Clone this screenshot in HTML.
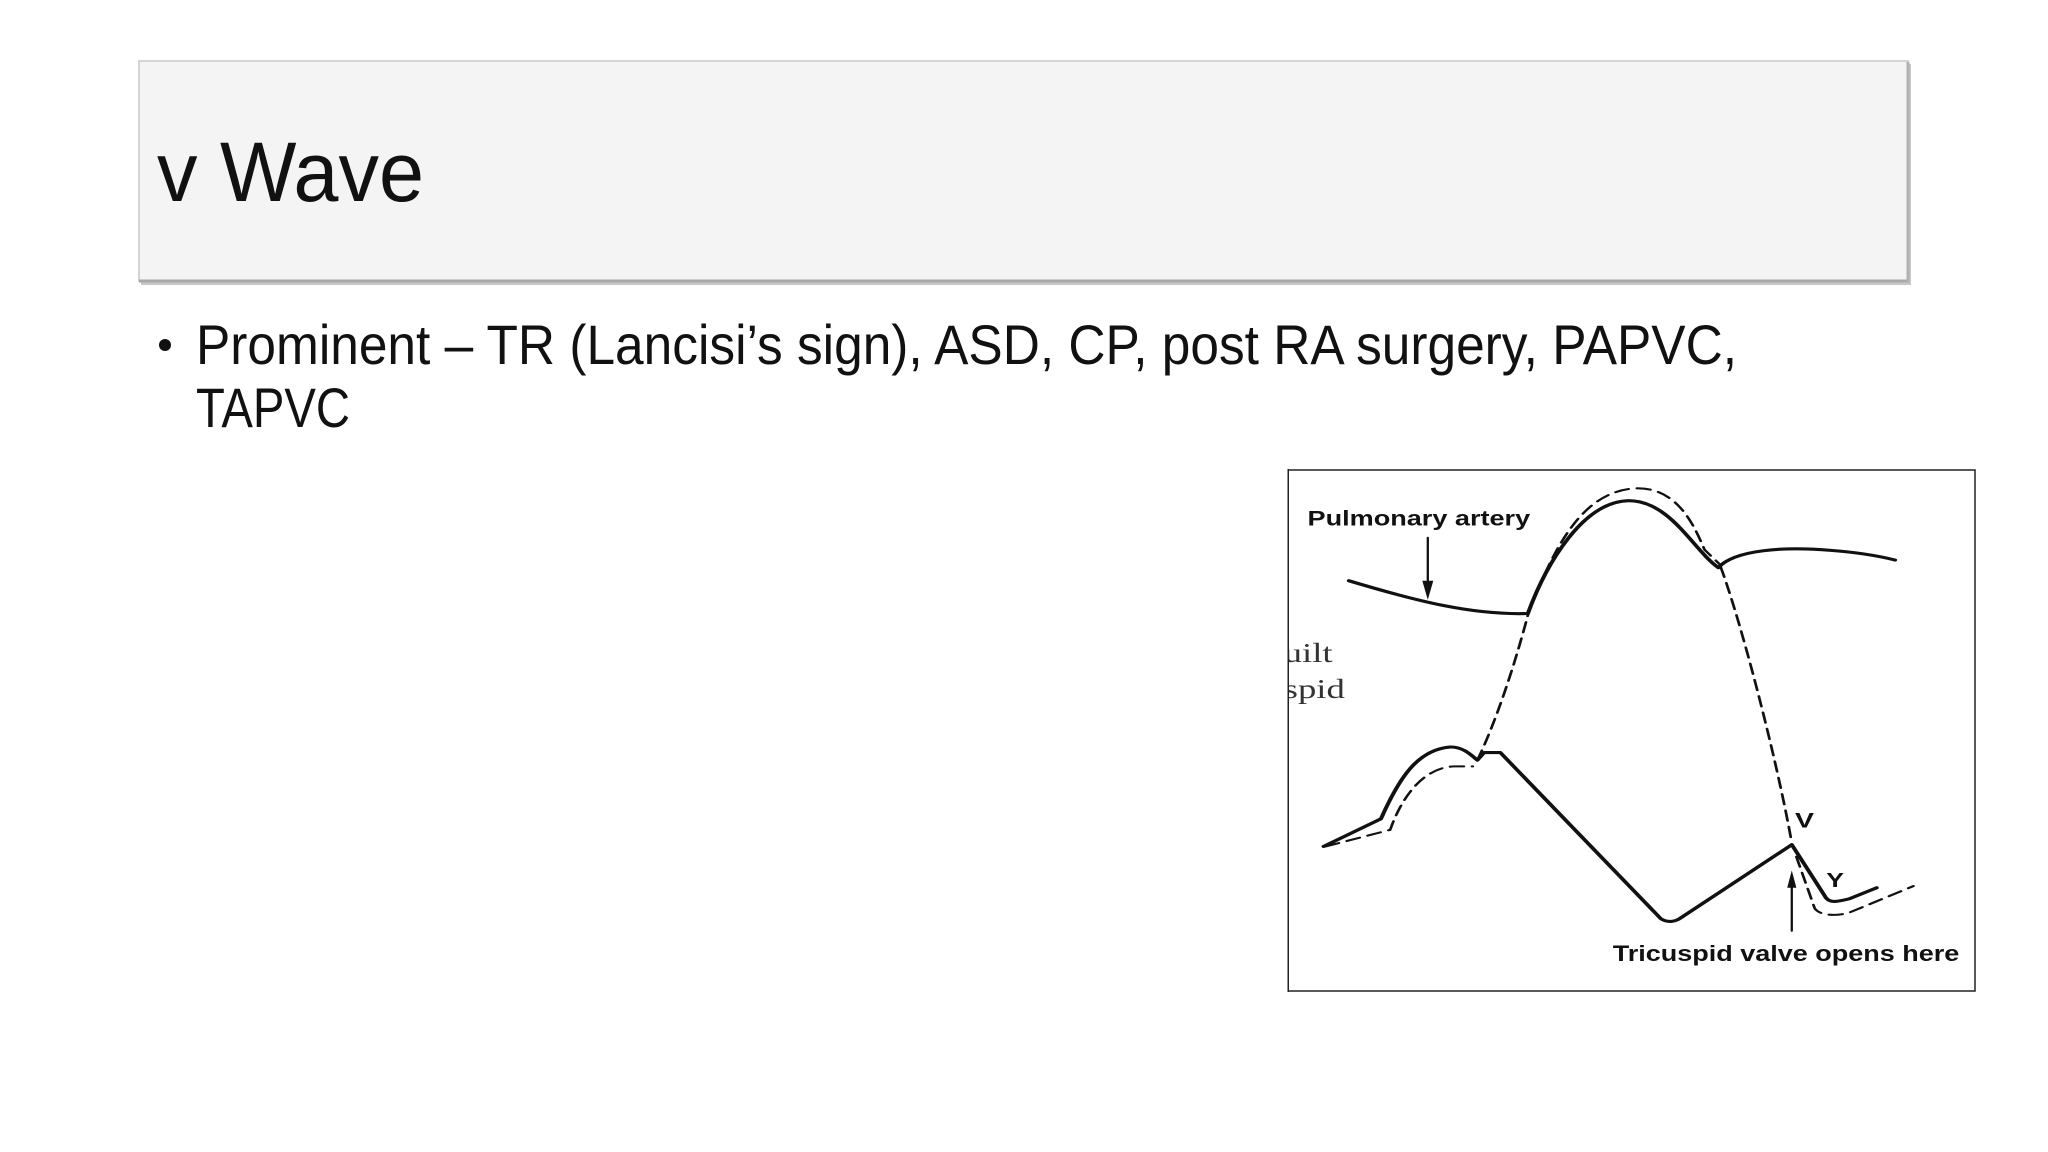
<!DOCTYPE html>
<html><head><meta charset="utf-8"><style>
html,body{margin:0;padding:0;background:#fff;}
svg{display:block;}
</style></head><body>
<svg width="2048" height="1152" viewBox="0 0 2048 1152" xmlns="http://www.w3.org/2000/svg">
<rect x="141" y="64" width="1770" height="221" fill="#c8c8c8"/>
<rect x="139" y="61" width="1769" height="220" fill="#f4f4f4" stroke="#d4d4d4" stroke-width="2"/>
<line x1="139" y1="281" x2="1909" y2="281" stroke="#a8a8a8" stroke-width="3"/>
<line x1="1908" y1="62" x2="1908" y2="282" stroke="#b0b0b0" stroke-width="3"/>
<text x="157" y="201" font-family="Liberation Sans, sans-serif" font-size="84" fill="#111" textLength="267" lengthAdjust="spacingAndGlyphs">v Wave</text>
<circle cx="165" cy="345" r="6" fill="#111"/>
<text x="196" y="364" font-family="Liberation Sans, sans-serif" font-size="56" fill="#111" textLength="1541" lengthAdjust="spacingAndGlyphs">Prominent – TR (Lancisi’s sign), ASD, CP, post RA surgery, PAPVC,</text>
<text x="196" y="427" font-family="Liberation Sans, sans-serif" font-size="56" fill="#111" textLength="154" lengthAdjust="spacingAndGlyphs">TAPVC</text>
<rect x="1288" y="470" width="687" height="521" fill="#fff" stroke="#222" stroke-width="1.5"/>
<g transform="translate(1280,460) scale(0.459,0.345)" fill="none" stroke="#111" stroke-width="9" stroke-linejoin="round" stroke-linecap="round">
<path d="M150,350 C300,410 420,450 540,445"/>
<path d="M540,445 C580,300 660,120 760,118 C850,118 900,260 955,312"/>
<path d="M955,312 C990,260 1100,250 1200,262 C1260,268 1310,280 1340,290"/>
<g stroke-dasharray="30,18" stroke-width="6">
<path d="M548,420 C600,250 660,85 780,82 C870,82 905,200 925,260 L960,305"/>
<path d="M960,310 C1000,450 1080,850 1115,1110"/>
<path d="M430,870 C470,760 510,600 540,450"/>
<path d="M100,1120 L240,1072 C270,960 320,890 380,888 L420,888"/>
<path d="M1125,1150 L1165,1300 C1180,1325 1220,1320 1240,1312 L1380,1235"/>
</g>
<path d="M95,1120 L220,1040 C260,920 300,840 370,832 C400,830 420,860 430,870 L445,848 L480,848 L830,1330 C845,1342 860,1338 870,1330 L1115,1115 L1190,1270 C1200,1285 1215,1280 1240,1272 L1300,1240"/>
<path d="M322,225 L322,390" stroke-width="5"/>
<path d="M1115,1365 L1115,1210" stroke-width="5"/>
</g>
<g transform="translate(1280,460) scale(0.459,0.345)" fill="#111">
<path d="M310,350 L334,350 L322,405 Z"/>
<path d="M1105,1240 L1125,1240 L1115,1190 Z"/>
<text x="60" y="190" font-family="Liberation Sans, sans-serif" font-weight="bold" font-size="62" textLength="485" lengthAdjust="spacingAndGlyphs">Pulmonary artery</text>
<text x="1122" y="1065" font-family="Liberation Sans, sans-serif" font-weight="bold" font-size="62">V</text>
<text x="1190" y="1238" font-family="Liberation Sans, sans-serif" font-weight="bold" font-size="58">Y</text>
<text x="725" y="1452" font-family="Liberation Sans, sans-serif" font-weight="bold" font-size="64" textLength="755" lengthAdjust="spacingAndGlyphs">Tricuspid valve opens here</text>
<text x="8" y="585" font-family="Liberation Serif, serif" font-size="80" fill="#333">uilt</text>
<text x="8" y="690" font-family="Liberation Serif, serif" font-size="80" fill="#333">spid</text>
</g>
<rect x="1280" y="465" width="8" height="530" fill="#fff"/>
<rect x="1287.5" y="469" width="1.5" height="523" fill="#222"/>
</svg>
</body></html>
